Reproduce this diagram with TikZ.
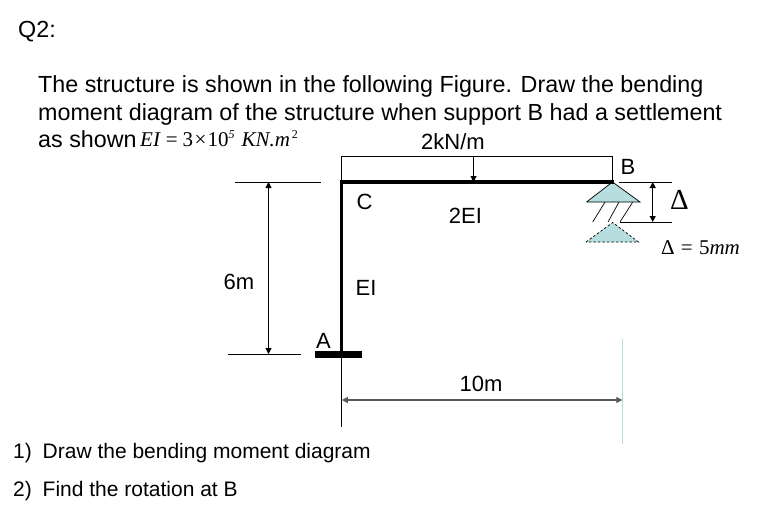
\documentclass[tikz,border=0pt]{standalone}
\usepackage{fontspec}
\setmainfont{Liberation Sans}
\newfontfamily\tms{Liberation Serif}
\usetikzlibrary{arrows.meta}
\definecolor{supp}{HTML}{B6DEDF}
\tikzset{
  x=1pt,y=-1pt,
  para/.style={anchor=base west,inner sep=0pt,font=\fontsize{23.3}{25}\selectfont},
  lab/.style={inner sep=0pt,font=\fontsize{22}{23}\selectfont},
  thin line/.style={line width=0.9pt,black},
  member/.style={line width=3.2pt,black},
  tip/.style={-{Triangle[length=6pt,width=6pt]}},
  tips/.style={{Triangle[length=6pt,width=6pt]}-{Triangle[length=6pt,width=6pt]}},
  hatch/.style={line width=0.7pt,black},
  guide/.style={line width=1pt,supp},
  eqn/.style={anchor=base west,inner sep=0pt,font=\tms\fontsize{21}{23}\selectfont},
}
\begin{document}
\begin{tikzpicture}
\useasboundingbox (0,0) rectangle (759,523);
\fill[white] (0,0) rectangle (759,523);
% coordinates
\coordinate (C) at (341.8,182);
\coordinate (A) at (341.8,354);
\coordinate (B) at (612.5,182);
\coordinate (LT) at (341.8,156);
\coordinate (RT) at (612.5,156);
\coordinate (LM) at (473.5,156);
\coordinate (LB) at (473.5,182);
\coordinate (AL) at (315,354.3);
\coordinate (AR) at (361.5,354.3);
\coordinate (Alow) at (341.8,427);
\coordinate (TopA) at (235,182);
\coordinate (TopB) at (321,182);
\coordinate (BotA) at (228,354);
\coordinate (BotB) at (301,354);
\coordinate (H1) at (268.5,182);
\coordinate (H2) at (268.5,354);
\coordinate (W1) at (341.8,400);
\coordinate (W2) at (622.3,400);
\coordinate (G1) at (622.3,339);
\coordinate (G2) at (622.3,444);
\coordinate (SL) at (586.5,202);
\coordinate (SR) at (640,202);
\coordinate (DA) at (612.7,222.5);
\coordinate (DL) at (586,242);
\coordinate (DR) at (638.5,242);
\coordinate (DT1) at (619,182);
\coordinate (DT2) at (672,182);
\coordinate (DB1) at (620,222);
\coordinate (DB2) at (672,222);
\coordinate (DX1) at (652.7,182);
\coordinate (DX2) at (652.7,222);
% text
\node[para] (q) at (18,37) {Q2:};
\node[para] (l1) at (38,92) {The structure is shown in the following Figure. Draw the bending};
\node[para] (l2) at (38,120) {moment diagram of the structure when support B had a settlement};
\node[para] (l3) at (38,147) {as shown};
\node[eqn] (ei) at (140,146) {\textit{EI}\hspace{5pt}=\hspace{5pt}3\hspace{1.5pt}×\hspace{1pt}10\raisebox{8pt}{\fontsize{12}{12}\selectfont\textit{5}}\hspace{7pt}\textit{KN.m}\hspace{2pt}\raisebox{8pt}{\fontsize{12}{12}\selectfont 2}};
\node[para,font=\fontsize{21}{22}\selectfont] (t1) at (13,458) {1)\hspace{5pt} Draw the bending moment diagram};
\node[para,font=\fontsize{21}{22}\selectfont] (t2) at (13,496) {2)\hspace{5pt} Find the rotation at B};
% load
\draw[thin line] (C) -- (LT) -- (RT) -- (B);
\draw[thin line,tip] (LM) -- (LB);
\node[lab] (load) at (453,142) {2kN/m};
% guides
\draw[guide] (G1) -- (G2);
\draw[thin line] (A) -- (Alow);
% support
\fill[supp] (DA) -- (DL) -- (DR) -- cycle;
\draw[hatch,dash pattern=on 2.5pt off 2pt] (DL) -- (DA) -- (DR) -- cycle;
\draw[hatch] (605,202) -- (592.7,222);
\draw[hatch] (619,202) -- (608,222);
\draw[hatch] (632.7,202) -- (620,222);
\draw[fill=supp,draw=none] (B) -- (SL) -- (SR) -- cycle;
\draw[hatch] (SL) -- (B) -- (SR) -- (SL);
% members
\draw[member,line cap=rect] (A) -- (C) -- (B);
\draw[line width=6.6pt,black] (AL) -- (AR);
% dims
\draw[thin line] (TopA) -- (TopB);
\draw[thin line] (BotA) -- (BotB);
\draw[thin line,tips] (H1) -- (H2);
\draw[line width=1.2pt,black!65,tips] (W1) -- (W2);
\draw[thin line] (DT1) -- (DT2);
\draw[thin line] (DB1) -- (DB2);
\draw[thin line,tips] (DX1) -- (DX2);
% labels
\node[lab] (lC) at (364.5,202) {C};
\node[lab] (lB) at (628,167) {B};
\node[lab] (lA) at (323.5,340.5) {A};
\node[lab] (l2EI) at (465.5,216) {2EI};
\node[lab] (lEI) at (366,288) {EI};
\node[lab] (l6) at (239,281.5) {6m};
\node[lab] (l10) at (481,384) {10m};
\node[eqn,font=\tms\fontsize{29}{30}\selectfont] (dl) at (670,209.5) {Δ};
\node[eqn] (dv) at (661,254) {Δ\hspace{1pt} = \hspace{1pt}5\textit{mm}};
\end{tikzpicture}
\end{document}
